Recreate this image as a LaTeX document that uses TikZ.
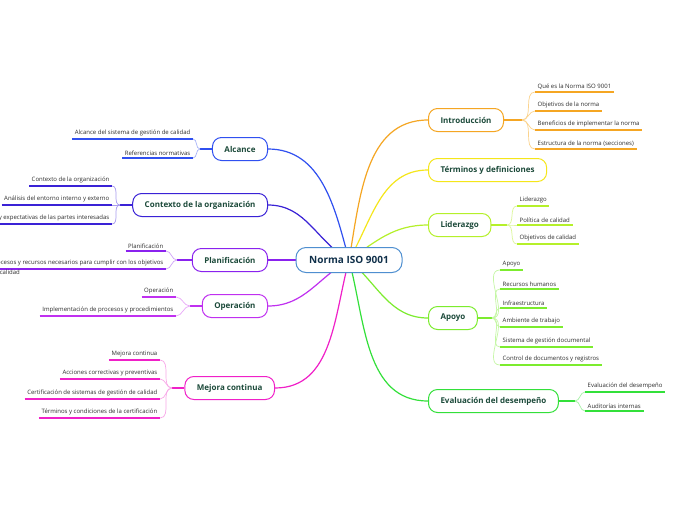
\documentclass[tikz,border=0pt]{standalone}
\usepackage{fontspec}
\setmainfont{Open Sans}
\pgfdeclarelayer{edges}
\pgfsetlayers{edges,main}

\definecolor{rootc}{HTML}{4F8FD0}
\definecolor{roottext}{HTML}{10304A}
\definecolor{topictext}{HTML}{1C4A3A}
\definecolor{leaftext}{HTML}{2D2D2D}
\definecolor{introc}{HTML}{F5A623}
\definecolor{introl}{HTML}{FBD38D}
\definecolor{termc}{HTML}{F5E61A}
\definecolor{liderc}{HTML}{B5F02A}
\definecolor{liderl}{HTML}{DCF79A}
\definecolor{apoyoc}{HTML}{7CEC2E}
\definecolor{apoyol}{HTML}{C5F7A5}
\definecolor{evalc}{HTML}{33E03A}
\definecolor{evall}{HTML}{A8F0A8}
\definecolor{alcc}{HTML}{3050F0}
\definecolor{alcl}{HTML}{A8B4F8}
\definecolor{ctxc}{HTML}{3A22D6}
\definecolor{ctxl}{HTML}{A99CF0}
\definecolor{planc}{HTML}{8A22EE}
\definecolor{planl}{HTML}{CFA3F7}
\definecolor{operc}{HTML}{C030F0}
\definecolor{operl}{HTML}{E8A8F8}
\definecolor{mejc}{HTML}{F020C8}
\definecolor{mejl}{HTML}{F8A8E8}

\tikzset{
  root/.style={draw=rootc, line width=1pt, rounded corners=10pt, fill=white,
    minimum height=25pt, minimum width=106pt, font=\fontsize{10}{12}\selectfont\bfseries, text=roottext},
  topic/.style={draw=#1, line width=1pt, rounded corners=9pt, fill=white,
    minimum height=23pt, inner xsep=12pt, font=\fontsize{8}{10}\selectfont\bfseries, text=topictext},
  leaf/.style={inner sep=2.5pt, font=\fontsize{6}{7.5}\selectfont, text=leaftext,
    append after command={(\tikzlastnode.south west) edge[draw=#1, line width=1.6pt] (\tikzlastnode.south east)}},
  branch/.style={line width=1.2pt, draw=#1},
  hub/.style={line width=1.6pt, draw=#1},
  twig/.style={line width=0.7pt, draw=#1},
}

\begin{document}
\begin{tikzpicture}[x=1pt, y=-1pt]
  \useasboundingbox (0,0) rectangle (696,520);

  % central topic
  \node[root] (root) at (349,260) {Norma ISO 9001};

  % main topics, right
  \node[topic=introc, anchor=west] (intro) at (428,120) {Introducción};
  \node[topic=termc, anchor=west] (term) at (428,170) {Términos y definiciones};
  \node[topic=liderc, anchor=west] (lider) at (428,225) {Liderazgo};
  \node[topic=apoyoc, anchor=west] (apoyo) at (428,318) {Apoyo};
  \node[topic=evalc, anchor=west] (eval) at (428,401) {Evaluación del desempeño};

  % main topics, left
  \node[topic=alcc, anchor=east] (alc) at (268,149) {Alcance};
  \node[topic=ctxc, anchor=east] (ctx) at (268,205) {Contexto de la organización};
  \node[topic=planc, anchor=east] (plan) at (268,260) {Planificación};
  \node[topic=operc, anchor=east] (oper) at (268,306) {Operación};
  \node[topic=mejc, anchor=east] (mej) at (275,388) {Mejora continua};

  % hubs
  \coordinate (introh) at (522,120);
  \coordinate (liderh) at (507,225);
  \coordinate (apoyoh) at (492,318);
  \coordinate (evalh) at (575,401);
  \coordinate (alch) at (200,149);
  \coordinate (ctxh) at (120,205);
  \coordinate (planh) at (177,260);
  \coordinate (operh) at (190,306);
  \coordinate (mejh) at (172,388);

  % subtopics
  \node[leaf=introc, anchor=south west] (intro1) at (535,92) {Qué es la Norma ISO 9001};
  \node[leaf=introc, anchor=south west] (intro2) at (535,111) {Objetivos de la norma};
  \node[leaf=introc, anchor=south west] (intro3) at (535,130) {Beneficios de implementar la norma};
  \node[leaf=introc, anchor=south west] (intro4) at (535,149) {Estructura de la norma (secciones)};

  \node[leaf=liderc, anchor=south west] (lider1) at (517,206) {Liderazgo};
  \node[leaf=liderc, anchor=south west] (lider2) at (517,225) {Política de calidad};
  \node[leaf=liderc, anchor=south west] (lider3) at (517,244) {Objetivos de calidad};

  \node[leaf=apoyoc, anchor=south west] (apoyo1) at (500,270) {Apoyo};
  \node[leaf=apoyoc, anchor=south west] (apoyo2) at (500,289) {Recursos humanos};
  \node[leaf=apoyoc, anchor=south west] (apoyo3) at (500,308) {Infraestructura};
  \node[leaf=apoyoc, anchor=south west] (apoyo4) at (500,327) {Ambiente de trabajo};
  \node[leaf=apoyoc, anchor=south west] (apoyo5) at (500,347) {Sistema de gestión documental};
  \node[leaf=apoyoc, anchor=south west] (apoyo6) at (500,365) {Control de documentos y registros};

  \node[leaf=evalc, anchor=south west] (eval1) at (585,392) {Evaluación del desempeño};
  \node[leaf=evalc, anchor=south west] (eval2) at (585,411) {Auditorías internas};

  \node[leaf=alcc, anchor=south east] (alc1) at (193,139) {Alcance del sistema de gestión de calidad};
  \node[leaf=alcc, anchor=south east] (alc2) at (193,158) {Referencias normativas};

  \node[leaf=ctxc, anchor=south east] (ctx1) at (112,186) {Contexto de la organización};
  \node[leaf=ctxc, anchor=south east] (ctx2) at (112,205) {Análisis del entorno interno y externo};
  \node[leaf=ctxc, anchor=south east] (ctx3) at (112,224) {Requisitos y expectativas de las partes interesadas};

  \node[leaf=planc, anchor=south east] (plan1) at (166,251) {Planificación};
  \node[leaf=planc, anchor=south east, label={[font=\fontsize{6}{7.5}\selectfont, text=leaftext, anchor=north west, inner sep=0pt, xshift=2.5pt, yshift=-0.5pt]south west:de calidad}] (plan2) at (166,269) {Procesos y recursos necesarios para cumplir con los objetivos};

  \node[leaf=operc, anchor=south east] (oper1) at (176,297) {Operación};
  \node[leaf=operc, anchor=south east] (oper2) at (176,316) {Implementación de procesos y procedimientos};

  \node[leaf=mejc, anchor=south east] (mej1) at (160,360) {Mejora continua};
  \node[leaf=mejc, anchor=south east] (mej2) at (160,379) {Acciones correctivas y preventivas};
  \node[leaf=mejc, anchor=south east] (mej3) at (160,399) {Certificación de sistemas de gestión de calidad};
  \node[leaf=mejc, anchor=south east] (mej4) at (160,418) {Términos y condiciones de la certificación};

  \begin{pgfonlayer}{edges}
    \fill[white] (0,0) rectangle (696,520);
    % central topic to main topics
    \draw[branch=introc] (root.center) to[out=80, in=180] (intro.west);
    \draw[branch=termc] (root.center) to[out=60, in=180] (term.west);
    \draw[branch=liderc] (root.center) to[out=35, in=180] (lider.west);
    \draw[branch=apoyoc] (root.center) to[out=-40, in=180] (apoyo.west);
    \draw[branch=evalc] (root.center) to[out=-75, in=180] (eval.west);
    \draw[branch=alcc] (root.center) to[out=105, in=0] (alc.east);
    \draw[branch=ctxc] (root.center) to[out=150, in=0] (ctx.east);
    \draw[branch=planc] (root.center) -- (plan.east);
    \draw[branch=operc] (root.center) to[out=-150, in=0] (oper.east);
    \draw[branch=mejc] (root.center) to[out=-105, in=0] (mej.east);

    % main topics to subtopics
    \draw[hub=introc] (intro.east) -- (introh);
    \draw[twig=introl] (introh) to[out=0, in=180] (intro1.south west);
    \draw[twig=introl] (introh) to[out=0, in=180] (intro2.south west);
    \draw[twig=introl] (introh) to[out=0, in=180] (intro3.south west);
    \draw[twig=introl] (introh) to[out=0, in=180] (intro4.south west);

    \draw[hub=liderc] (lider.east) -- (liderh);
    \draw[twig=liderl] (liderh) to[out=0, in=180] (lider1.south west);
    \draw[twig=liderl] (liderh) to[out=0, in=180] (lider2.south west);
    \draw[twig=liderl] (liderh) to[out=0, in=180] (lider3.south west);

    \draw[hub=apoyoc] (apoyo.east) -- (apoyoh);
    \draw[twig=apoyol] (apoyoh) to[out=0, in=180] (apoyo1.south west);
    \draw[twig=apoyol] (apoyoh) to[out=0, in=180] (apoyo2.south west);
    \draw[twig=apoyol] (apoyoh) to[out=0, in=180] (apoyo3.south west);
    \draw[twig=apoyol] (apoyoh) to[out=0, in=180] (apoyo4.south west);
    \draw[twig=apoyol] (apoyoh) to[out=0, in=180] (apoyo5.south west);
    \draw[twig=apoyol] (apoyoh) to[out=0, in=180] (apoyo6.south west);

    \draw[hub=evalc] (eval.east) -- (evalh);
    \draw[twig=evall] (evalh) to[out=0, in=180] (eval1.south west);
    \draw[twig=evall] (evalh) to[out=0, in=180] (eval2.south west);

    \draw[hub=alcc] (alc.west) -- (alch);
    \draw[twig=alcl] (alch) to[out=180, in=0] (alc1.south east);
    \draw[twig=alcl] (alch) to[out=180, in=0] (alc2.south east);

    \draw[hub=ctxc] (ctx.west) -- (ctxh);
    \draw[twig=ctxl] (ctxh) to[out=180, in=0] (ctx1.south east);
    \draw[twig=ctxl] (ctxh) to[out=180, in=0] (ctx2.south east);
    \draw[twig=ctxl] (ctxh) to[out=180, in=0] (ctx3.south east);

    \draw[hub=planc] (plan.west) -- (planh);
    \draw[twig=planl] (planh) to[out=180, in=0] (plan1.south east);
    \draw[twig=planl] (planh) to[out=180, in=0] (plan2.south east);

    \draw[hub=operc] (oper.west) -- (operh);
    \draw[twig=operl] (operh) to[out=180, in=0] (oper1.south east);
    \draw[twig=operl] (operh) to[out=180, in=0] (oper2.south east);

    \draw[hub=mejc] (mej.west) -- (mejh);
    \draw[twig=mejl] (mejh) to[out=180, in=0] (mej1.south east);
    \draw[twig=mejl] (mejh) to[out=180, in=0] (mej2.south east);
    \draw[twig=mejl] (mejh) to[out=180, in=0] (mej3.south east);
    \draw[twig=mejl] (mejh) to[out=180, in=0] (mej4.south east);
  \end{pgfonlayer}
\end{tikzpicture}
\end{document}
